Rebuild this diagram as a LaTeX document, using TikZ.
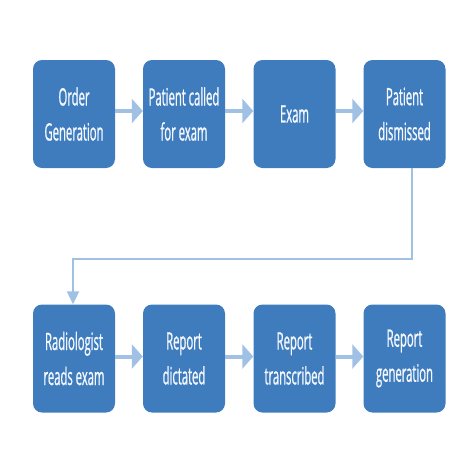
\documentclass[tikz,border=0pt]{standalone}
\usepackage{fontspec}
\setmainfont[FakeStretch=0.47,FakeBold=0.8]{Open Sans}
\usetikzlibrary{arrows.meta}
\definecolor{boxblue}{RGB}{62,124,190}
\definecolor{arrblue}{RGB}{160,193,227}
\definecolor{txtc}{RGB}{244,248,253}
\tikzset{
  stepbox/.style={draw=none, fill=boxblue, rounded corners=9pt, minimum width=82pt, minimum height=108pt, inner sep=0pt, align=center, text=txtc, font=\fontsize{24pt}{35pt}\selectfont},
  flow/.style={draw=arrblue, line width=4pt, -{Triangle[length=11pt,width=24pt]}},
  fb/.style={draw=arrblue, line width=2.2pt, -{Triangle[length=13pt,width=12pt]}}
}
\begin{document}
\begin{tikzpicture}[x=1pt,y=1pt]
\useasboundingbox (0,0) rectangle (472,-472);
\node[stepbox] (n1) at (74,-114) {Order\\Generation};
\node[stepbox] (n2) at (184,-114) {Patient called\\for exam};
\node[stepbox] (n3) at (294.5,-114) {Exam};
\node[stepbox] (n4) at (404.5,-114) {Patient\\dismissed};
\node[stepbox] (n5) at (74,-358.5) {Radiologist\\reads exam};
\node[stepbox] (n6) at (184,-358.5) {Report\\dictated};
\node[stepbox] (n7) at (294.5,-358.5) {Report\\transcribed};
\node[stepbox] (n8) at (404.5,-358.5) {Report\\generation};
\draw[flow] ([yshift=3pt]n1.east) -- ([yshift=3pt]n2.west);
\draw[flow] ([yshift=3pt]n2.east) -- ([yshift=3pt]n3.west);
\draw[flow] ([yshift=3pt]n3.east) -- ([yshift=3pt]n4.west);
\draw[flow] ([yshift=2pt]n5.east) -- ([yshift=2pt]n6.west);
\draw[flow] ([yshift=2pt]n6.east) -- ([yshift=2pt]n7.west);
\draw[flow] ([yshift=2pt]n7.east) -- ([yshift=2pt]n8.west);
\draw[fb] ([xshift=7.5pt]n4.south) -- ++(0,-91) -| ([xshift=-1pt]n5.north);
\end{tikzpicture}
\end{document}
